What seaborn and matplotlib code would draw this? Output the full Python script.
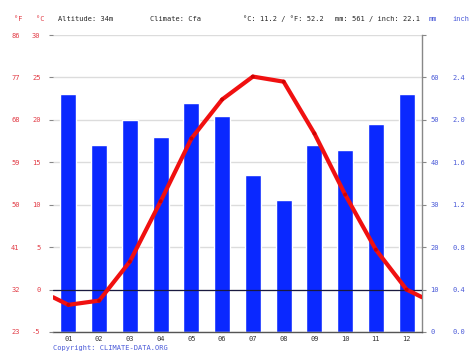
import numpy as np
import pandas as pd
import seaborn as sns
import matplotlib.pyplot as plt

months = ["01", "02", "03", "04", "05", "06", "07", "08", "09", "10", "11", "12"]
precip_mm = [56, 44, 50, 46, 54, 51, 37, 31, 44, 43, 49, 56]
temp_c = [-1.8, -1.3, 3.3, 10.4, 17.8, 22.4, 25.1, 24.5, 18.4, 11.2, 4.7, 0.0]
temp_ticks_c = [-5, 0, 5, 10, 15, 20, 25, 30]
mm_ticks = [0, 10, 20, 30, 40, 50, 60]

RED = "#e23c46"
BLUE = "#4a5ad8"
BAR = "#0a28ff"
LINE = "#f01010"
MONO = "DejaVu Sans Mono"

sns.set_style("white")
plt.rcParams["font.family"] = [MONO]

fig = plt.figure(figsize=(4.74, 3.55), dpi=100)
axb = fig.add_axes([53 / 474, 23 / 355, 369 / 474, 297 / 355])
axt = axb.twinx()

# precipitation bars (mm axis on the right)
df = pd.DataFrame({"month": months, "mm": precip_mm})
sns.barplot(data=df, x="month", y="mm", color=BAR, saturation=1, width=0.52,
            ax=axb, zorder=2)
axb.set_xlim(-0.5, 11.5)
axb.set_ylim(0, 70)
axb.set_xlabel("")
axb.set_ylabel("")
axb.set_axisbelow(True)
axb.set_yticks(mm_ticks + [70])
axb.yaxis.grid(True, color="#dcdcdc", lw=1)
axb.yaxis.tick_right()
axb.yaxis.set_label_position("right")
axb.set_yticklabels([str(t) for t in mm_ticks] + [""])
axb.tick_params(axis="y", colors="#888888", labelcolor=BLUE, labelsize=5,
                length=3, width=0.8, pad=3, left=False, labelleft=False,
                right=True, labelright=True)
axb.tick_params(axis="x", labelsize=5, length=0, pad=3, labelcolor="#333333")
axb.set_xticks(np.arange(-0.5, 12, 1), minor=True)
axb.tick_params(axis="x", which="minor", length=2, color="#666666", width=0.6)
for s in ["left", "top"]:
    axb.spines[s].set_visible(False)
axb.spines["right"].set_color("#888888")
axb.spines["right"].set_linewidth(1)
axb.spines["bottom"].set_color("#555555")
axb.spines["bottom"].set_linewidth(1)

# inch labels
sec = axb.secondary_yaxis("right")
sec.set_yticks(mm_ticks, labels=[f"{m / 25.4:.1f}" for m in mm_ticks])
sec.tick_params(length=0, labelsize=5, labelcolor=BLUE, pad=22)
sec.spines["right"].set_visible(False)

# temperature line on the twin axis, drawn above bars
axt.set_ylim(-5, 30)
edge = (temp_c[0] + temp_c[-1]) / 2
xs = [-0.5] + list(range(12)) + [11.5]
ys = [edge] + temp_c + [edge]
axt.axhline(0, color="#1a1a40", lw=0.9, zorder=1)
sns.lineplot(x=xs, y=ys, color=LINE, lw=3, ax=axt, zorder=3)
sns.scatterplot(x=list(range(12)), y=temp_c, color="#d00000", s=8, ax=axt,
                zorder=4, edgecolor="none")
axt.yaxis.tick_left()
axt.set_yticks(temp_ticks_c, labels=[str(t) for t in temp_ticks_c])
axt.tick_params(axis="y", colors="#888888", labelcolor=RED, labelsize=5,
                length=3, width=0.8, pad=6, right=False, labelright=False,
                left=True, labelleft=True)
for s in axt.spines.values():
    s.set_visible(False)

# Fahrenheit labels
secf = axt.secondary_yaxis("left", functions=(lambda c: c * 9 / 5 + 32,
                                              lambda f: (f - 32) * 5 / 9))
secf.set_yticks([t * 9 / 5 + 32 for t in temp_ticks_c],
                labels=[f"{t * 9 / 5 + 32:.0f}" for t in temp_ticks_c])
secf.tick_params(length=0, labelsize=5, labelcolor=RED, pad=24)
secf.spines["left"].set_visible(False)

# header
hy = 1 - 19 / 355
fig.text(18 / 474, hy, "°F", color=RED, fontsize=5, ha="center", va="center")
fig.text(40 / 474, hy, "°C", color=RED, fontsize=5, ha="center", va="center")
fig.text(58 / 474, hy, "Altitude: 34m", fontsize=5, va="center")
fig.text(150 / 474, hy, "Climate: Cfa", fontsize=5, va="center")
fig.text(243 / 474, hy, "°C: 11.2 / °F: 52.2", fontsize=5, va="center")
fig.text(335 / 474, hy, "mm: 561 / inch: 22.1", fontsize=5, va="center")
fig.text(433 / 474, hy, "mm", color=BLUE, fontsize=5, ha="center", va="center")
fig.text(461 / 474, hy, "inch", color=BLUE, fontsize=5, ha="center", va="center")
fig.text(53 / 474, 1 - 348 / 355, "Copyright: CLIMATE-DATA.ORG", color=BLUE,
         fontsize=5, va="center")

fig.savefig("out.png", dpi=100)
